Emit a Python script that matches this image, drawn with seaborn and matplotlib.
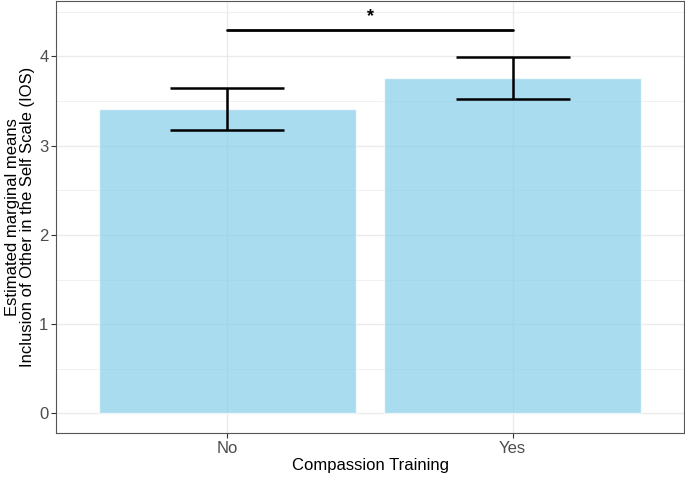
import seaborn as sns
import matplotlib.pyplot as plt
import pandas as pd
from matplotlib.ticker import MultipleLocator

# Data
groups = ['No', 'Yes']
emmeans = [3.41, 3.755]
ci_low = [3.17, 3.52]
ci_high = [3.65, 3.99]
sig_y = 4.30
sig_label = '*'

df = pd.DataFrame({'training': groups, 'emmean': emmeans})

sns.set_theme(style='whitegrid')
plt.rcParams['font.family'] = ['Liberation Sans', 'DejaVu Sans']

fig = plt.figure(figsize=(6.85, 4.78), dpi=100)
ax = fig.add_axes([0.0818, 0.094, 0.9167, 0.904])

# grid first, bars semi-transparent on top
ax.set_axisbelow(True)
sns.barplot(data=df, x='training', y='emmean', color='skyblue', alpha=0.7,
            width=0.9, errorbar=None, saturation=1, ax=ax, zorder=2)

# confidence intervals
x_pos = list(range(len(groups)))
yerr = [[m - lo for m, lo in zip(emmeans, ci_low)],
        [hi - m for m, hi in zip(emmeans, ci_high)]]
ax.errorbar(x_pos, emmeans, yerr=yerr, fmt='none', ecolor='black',
            elinewidth=1.8, capsize=41, capthick=1.8, zorder=3)

# significance bracket
ax.plot([x_pos[0], x_pos[1]], [sig_y, sig_y], color='black', lw=2.0, zorder=3)
ax.text((x_pos[0] + x_pos[1]) / 2, sig_y + 0.05, sig_label, ha='center',
        va='bottom', fontsize=13, fontweight='bold', color='black')

ax.set_xlim(-0.6, 1.6)
ax.set_ylim(-0.22, 4.62)
ax.yaxis.set_major_locator(MultipleLocator(1))
ax.yaxis.set_minor_locator(MultipleLocator(0.5))

ax.grid(which='major', color='#EBEBEB', lw=1.0)
ax.grid(which='minor', axis='y', color='#EBEBEB', lw=0.5)
ax.xaxis.grid(True, which='major', color='#EBEBEB', lw=1.0)

for s in ax.spines.values():
    s.set_color('#555555')
    s.set_linewidth(0.8)

ax.tick_params(axis='both', which='major', length=3.5, width=0.8, color='#333333',
               labelsize=12, labelcolor='#4D4D4D', pad=2, left=True, bottom=True)
ax.tick_params(axis='both', which='minor', length=0)

ax.set_xlabel('Compassion Training', fontsize=12, color='black', labelpad=2)
ax.set_ylabel('Estimated marginal means\nInclusion of Other in the Self Scale (IOS)',
              fontsize=12, color='black', labelpad=3, linespacing=0.95)

fig.savefig('out.png', dpi=100)
